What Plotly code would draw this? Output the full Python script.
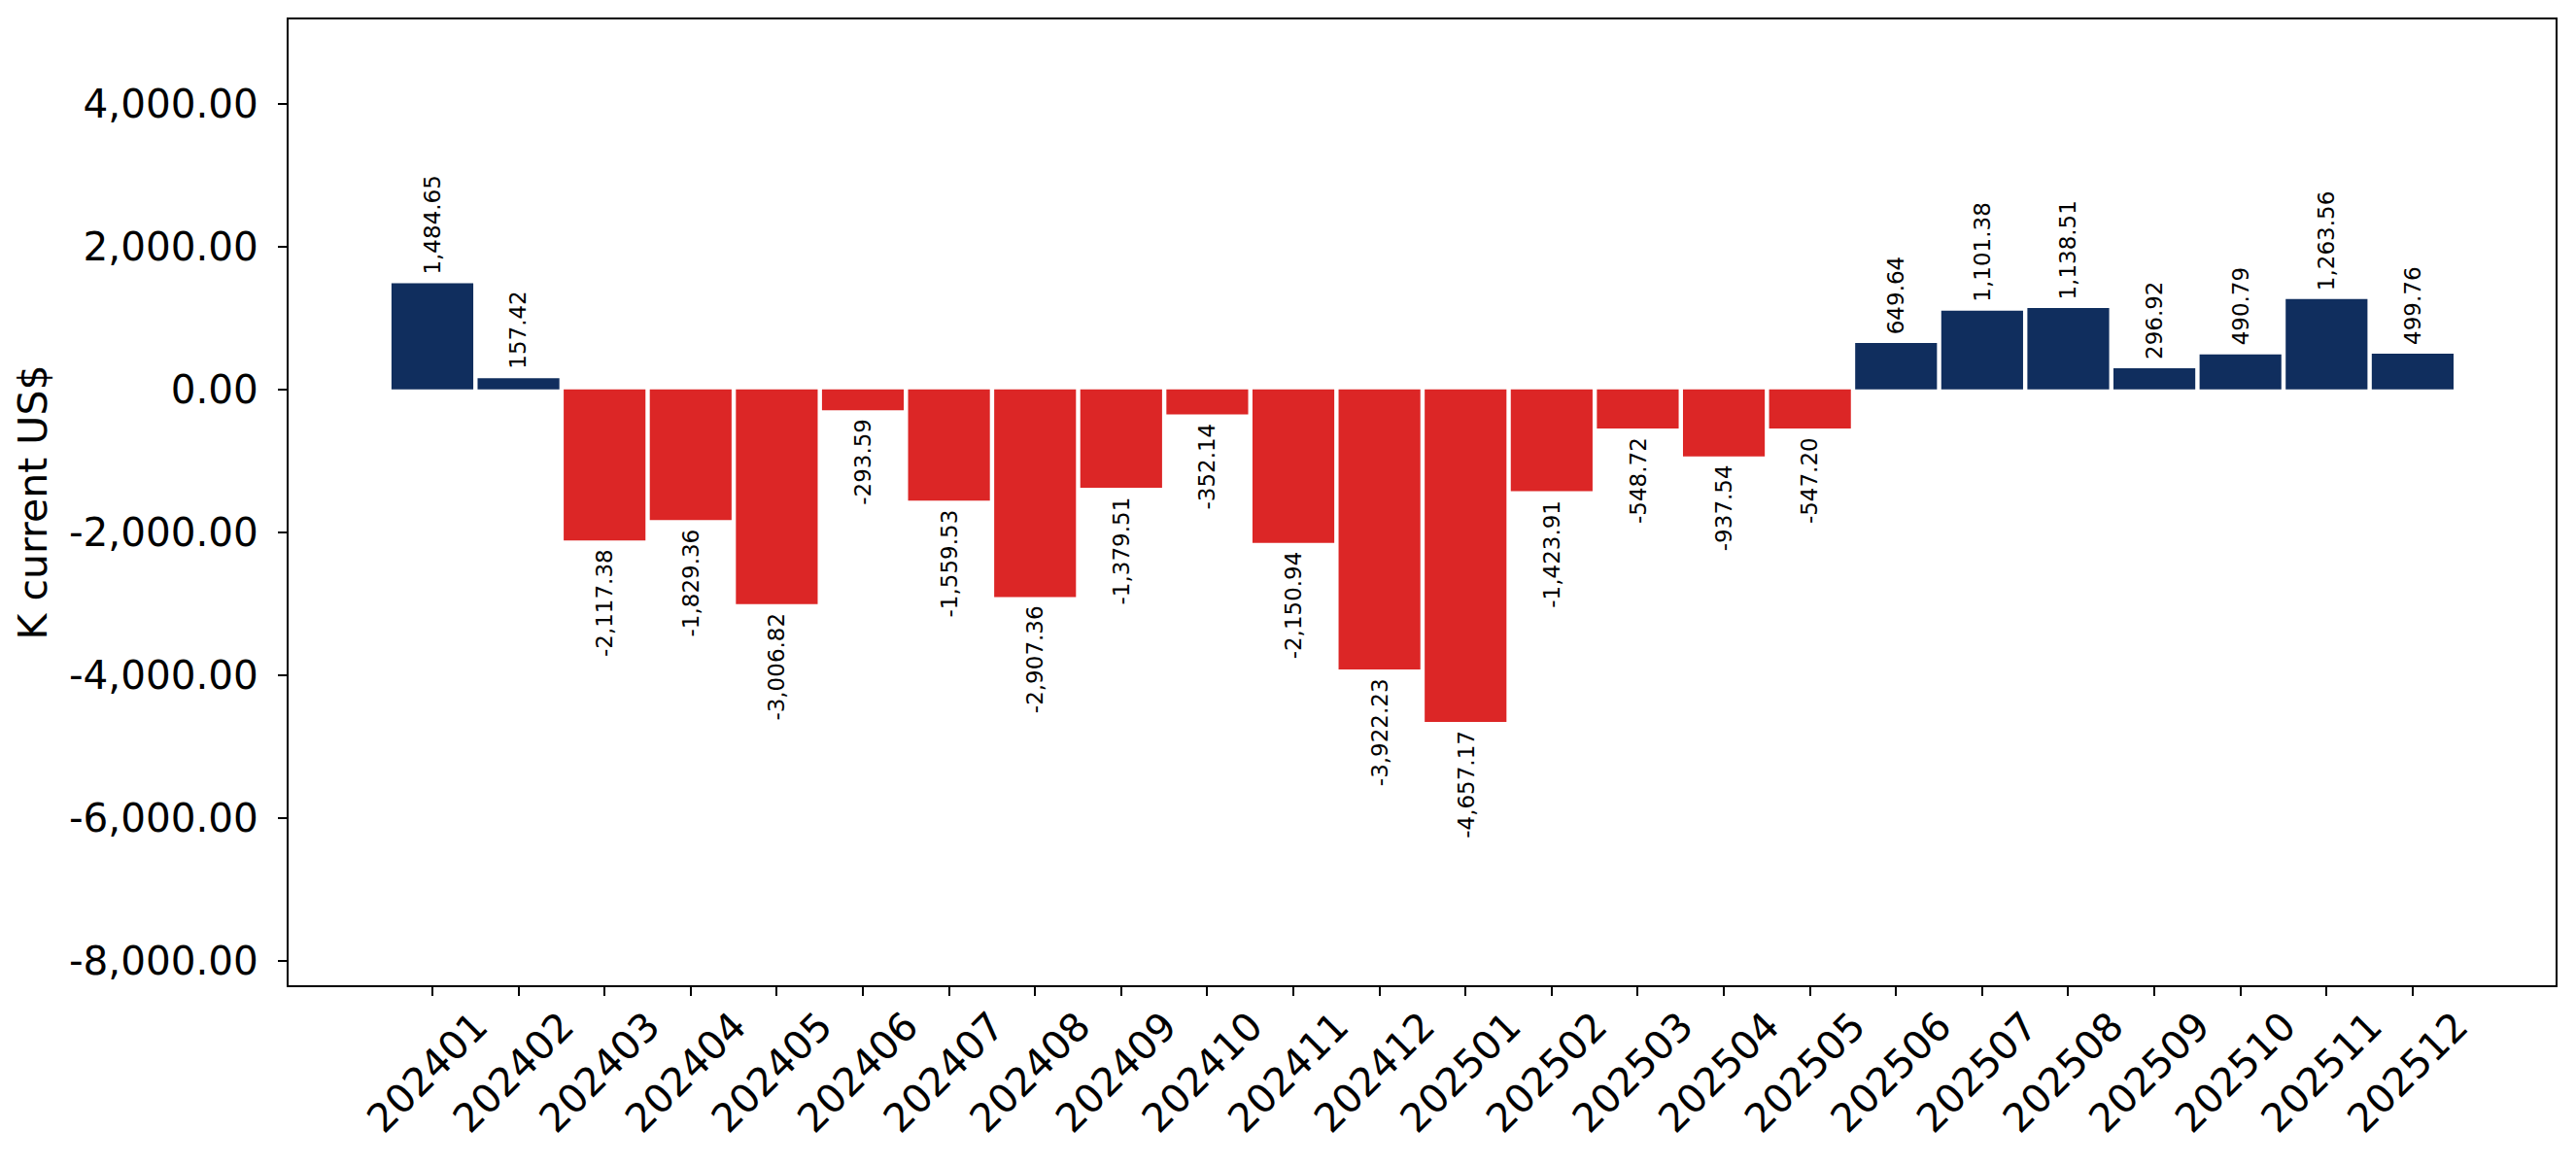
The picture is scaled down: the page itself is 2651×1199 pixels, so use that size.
import plotly.graph_objects as go

months = [
    "202401", "202402", "202403", "202404", "202405", "202406",
    "202407", "202408", "202409", "202410", "202411", "202412",
    "202501", "202502", "202503", "202504", "202505", "202506",
    "202507", "202508", "202509", "202510", "202511", "202512",
]
values = [
    1484.65, 157.42, -2117.38, -1829.36, -3006.82, -293.59,
    -1559.53, -2907.36, -1379.51, -352.14, -2150.94, -3922.23,
    -4657.17, -1423.91, -548.72, -937.54, -547.20, 649.64,
    1101.38, 1138.51, 296.92, 490.79, 1263.56, 499.76,
]
y_ticks = [-8000, -6000, -4000, -2000, 0, 2000, 4000]

POS_COLOR = "#102e5e"
NEG_COLOR = "#dc2626"
FONT = "DejaVu Sans"


def plot_balance(months, values):
    colors = [POS_COLOR if v >= 0 else NEG_COLOR for v in values]

    bars = go.Bar(
        x=months,
        y=values,
        marker=dict(color=colors, line=dict(width=0)),
        width=0.95,
        showlegend=False,
    )
    fig = go.Figure(data=[bars])

    # value labels, rotated, just past the end of each bar
    # (category index as x: month strings would be read as numbers)
    for i, v in enumerate(values):
        fig.add_annotation(
            x=i,
            y=v,
            text=f"{v:,.2f}",
            textangle=-90,
            showarrow=False,
            xanchor="center",
            yanchor="bottom" if v >= 0 else "top",
            yshift=7 if v >= 0 else -7,
            font=dict(family=FONT, size=23, color="black"),
        )

    axis_style = dict(
        showline=True,
        linecolor="black",
        linewidth=2,
        mirror=True,
        ticks="outside",
        ticklen=9,
        tickwidth=2,
        tickcolor="black",
        showgrid=False,
        zeroline=False,
        automargin=False,
        tickfont=dict(family=FONT, size=40.5, color="black"),
    )

    # page body has an 8px margin, so the figure is 8px smaller each way
    fig.update_layout(
        width=2643,
        height=1191,
        margin=dict(l=289, r=21, t=12, b=185),
        plot_bgcolor="white",
        paper_bgcolor="white",
        bargap=0.05,
        xaxis=dict(
            **axis_style,
            type="category",
            range=[-1.67, 24.66],
            tickangle=-45,
            ticklabelshift=45,
            ticklabelstandoff=-9,
        ),
        yaxis=dict(
            **axis_style,
            range=[-8344, 5180],
            tickvals=y_ticks,
            ticktext=[f"{t:,.2f}" for t in y_ticks],
            ticklabelstandoff=12,
            title=dict(
                text="K current US$",
                font=dict(family=FONT, size=41, color="black"),
                standoff=10,
            ),
        ),
    )
    return fig


if __name__ == "__main__":
    fig = plot_balance(months, values)
    fig.write_html("out.html")
